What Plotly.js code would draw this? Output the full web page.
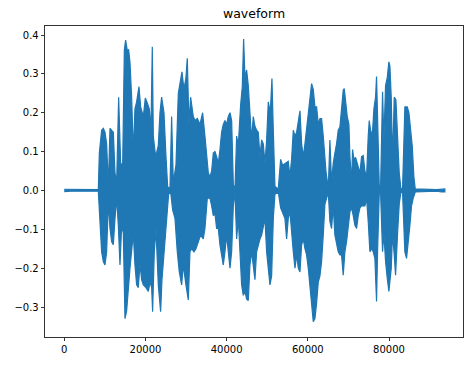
<!DOCTYPE html>
<html><head><meta charset="utf-8">
<script src="https://cdn.plot.ly/plotly-3.0.1.min.js"></script>
<style>html,body{margin:0;padding:0;background:#fff}#chart{width:474px;height:365px}</style>
</head><body><div id="chart"></div>
<script>
// Upper envelope of the waveform (sample index, amplitude)
const topSamples = [0,1000,1600,8380,8630,8960,9200,9610,10020,10430,10850,11260,11670,12080,12490,12900,13390,13880,14380,14790,15110,15520,15850,16180,16590,17000,17410,17820,18400,18810,19470,19960,20450,20940,21350,21680,21930,22500,23160,23570,23980,24560,25050,25460,26030,26440,26860,27510,28090,28660,28990,29480,29970,30300,30710,31120,31780,32190,32770,33420,34080,34650,35070,35480,
35890,36300,36710,37120,37530,37940,38350,38760,39170,39580,39990,40400,40820,41230,41640,42050,42460,42870,43440,43850,44180,44510,44920,45330,45740,46150,46560,46970,47380,47790,48200,48620,49030,49440,49850,50260,50750,51160,51490,51900,52720,53300,53790,54360,55180,55590,56000,56420,56830,57240,57650,58060,58470,58880,59290,59700,60110,60520,60930,61340,61750,62160,62570,62980,63390,63800,64460,65040,
65440,65850,66260,66670,67080,67490,67900,68310,68720,68970,69380,69710,70120,70370,70780,71020,71350,71760,72170,72580,72830,73240,73650,74060,74470,74880,75130,75460,75870,76280,76690,76930,77180,77590,77920,78410,78740,79150,79560,79970,80220,80550,80870,81290,81700,82110,82520,82930,83340,83910,84490,84900,85310,85720,86130,86460,91710,92940,93760];
const topAmplitude = [0.003,0.003,0.002,0.002,0.096,0.13,0.155,0.16,0.15,0.12,0.01,0.16,0.155,0.15,0.045,0.02,0.24,0.07,0.065,0.361,0.387,0.36,0.362,0.33,0.24,0.096,0.21,0.228,0.267,0.215,0.19,0.238,0.225,0.21,0.155,0.37,0.14,0.087,0.115,0.2,0.24,0.2,0.087,0.01,0.004,0.19,0.02,0.065,0.25,0.284,0.305,0.26,0.29,0.34,0.17,0.24,0.19,0.18,0.185,0.17,0.2,0.14,0.087,0.045,
0.035,0.05,0.096,0.1,0.087,0.07,0.105,0.15,0.17,0.18,0.17,0.19,0.2,0.18,0.015,0.004,0.14,0.115,0.22,0.267,0.39,0.29,0.31,0.27,0.2,0.13,0.19,0.165,0.155,0.15,0.087,0.13,0.12,0.07,0.13,0.228,0.2,0.288,0.155,0.01,0.004,0.08,0.065,0.07,0.075,0.035,0.08,0.155,0.14,0.15,0.18,0.205,0.12,0.087,0.12,0.16,0.19,0.24,0.275,0.26,0.215,0.215,0.17,0.185,0.185,0.14,0.05,0.005,
0.13,0.02,0.07,0.096,0.12,0.155,0.163,0.21,0.258,0.262,0.21,0.19,0.17,0.087,0.02,0.105,0.08,0.085,0.07,0.05,0.045,0.087,0.09,0.05,0.035,0.14,0.18,0.155,0.14,0.21,0.24,0.293,0.155,0.015,0.005,0.254,0.13,0.27,0.29,0.331,0.32,0.24,0.07,0.24,0.233,0.155,0.045,0.005,0.005,0.215,0.215,0.2,0.163,0.115,0.035,0.004,0.002,0.004,0.004];
// Lower envelope of the waveform (sample index, amplitude)
const bottomSamples = [0,1000,1600,8380,8790,9200,9610,10020,10430,10850,11260,11670,12080,12490,12900,13310,13720,14130,14540,14950,15360,15770,16180,17000,17410,17820,18230,18650,19060,19470,20120,20700,21110,21520,21760,22170,22590,23160,23730,24060,24560,25210,25700,26200,26690,27270,27840,28330,28910,29320,29970,30550,30960,31370,31950,32440,33010,33590,34240,34650,35230,
35890,36300,36710,37120,37530,37940,38350,38760,39170,39580,39990,40400,40820,41230,41640,42050,42460,42870,43280,43690,44100,44510,44920,45330,45740,46150,46560,46970,47380,47790,48200,48620,49030,49440,49850,50260,50670,51080,51490,51900,52720,53300,53790,54360,54770,55180,55590,56000,56420,56830,57240,57650,58060,58470,58880,59290,59700,60110,60520,60930,61340,61750,62160,62570,62980,63390,63800,64210,64620,65040,
65440,65850,66260,66670,67080,67490,67900,68310,68720,69130,69540,69960,70370,70780,71190,71600,72010,72420,72830,73240,73650,74060,74470,74880,75290,75700,76110,76520,76930,77180,77590,77920,78410,78740,79150,79560,79970,80220,80550,80870,81290,81620,82110,82520,82930,83340,83910,84320,84730,85140,85550,85960,86460,91710,92940,93760];
const bottomAmplitude = [-0.003,-0.003,-0.002,-0.002,-0.072,-0.158,-0.183,-0.192,-0.158,-0.03,-0.098,-0.132,-0.14,-0.072,-0.02,-0.09,-0.192,-0.09,-0.11,-0.33,-0.31,-0.27,-0.2,-0.11,-0.192,-0.243,-0.25,-0.19,-0.23,-0.243,-0.25,-0.26,-0.236,-0.25,-0.312,-0.158,-0.1,-0.243,-0.312,-0.23,-0.158,-0.072,-0.01,-0.004,-0.05,-0.072,-0.158,-0.21,-0.243,-0.192,-0.243,-0.282,-0.158,-0.15,-0.158,-0.15,-0.132,-0.115,-0.125,-0.098,-0.02,
-0.02,-0.04,-0.065,-0.06,-0.098,-0.098,-0.14,-0.166,-0.192,-0.158,-0.115,-0.158,-0.2,-0.158,-0.04,-0.004,-0.125,-0.072,-0.158,-0.243,-0.27,-0.26,-0.28,-0.283,-0.192,-0.158,-0.192,-0.23,-0.158,-0.14,-0.125,-0.115,-0.098,-0.072,-0.158,-0.2,-0.243,-0.22,-0.072,-0.01,-0.004,-0.045,-0.055,-0.072,-0.125,-0.072,-0.055,-0.115,-0.158,-0.2,-0.166,-0.2,-0.21,-0.14,-0.125,-0.15,-0.166,-0.2,-0.243,-0.286,-0.338,-0.33,-0.29,-0.236,-0.22,-0.183,-0.115,-0.035,-0.02,-0.005,
-0.08,-0.098,-0.04,-0.115,-0.14,-0.158,-0.166,-0.166,-0.218,-0.158,-0.132,-0.098,-0.055,-0.045,-0.065,-0.09,-0.098,-0.065,-0.045,-0.04,-0.04,-0.04,-0.02,-0.08,-0.158,-0.15,-0.158,-0.175,-0.286,-0.158,-0.01,-0.005,-0.158,-0.11,-0.183,-0.225,-0.26,-0.25,-0.2,-0.11,-0.166,-0.218,-0.11,-0.035,-0.005,-0.005,-0.158,-0.175,-0.14,-0.09,-0.04,-0.02,-0.004,-0.002,-0.004,-0.004];
const xTicks = [0, 20000, 40000, 60000, 80000];
const yTicks = [-0.3, -0.2, -0.1, 0.0, 0.1, 0.2, 0.3, 0.4];
const chartTitle = 'waveform';

const polyX = topSamples.concat(bottomSamples.slice().reverse());
const polyY = topAmplitude.concat(bottomAmplitude.slice().reverse());

const axisStyle = {
  showline: true, mirror: true, linecolor: '#000', linewidth: 0.8,
  ticks: 'outside', ticklen: 3.5, tickwidth: 0.8, tickcolor: '#000',
  showgrid: false, zeroline: false,
  tickfont: {family: 'DejaVu Sans', size: 10, color: '#000'}
};
const layout = {
  width: 474, height: 365,
  margin: {l: 45, r: 11, t: 26, b: 28, pad: 0},
  paper_bgcolor: '#fff', plot_bgcolor: '#fff',
  font: {family: 'DejaVu Sans', size: 10, color: '#000'},
  showlegend: false,
  title: {text: chartTitle, font: {family: 'DejaVu Sans', size: 12.5, color: '#000'},
          x: 0.5, xref: 'paper', xanchor: 'center', y: 1 - 14/365, yref: 'container', yanchor: 'middle'},
  xaxis: Object.assign({range: [-4755, 98230], tickvals: xTicks, tickformat: 'd'}, axisStyle),
  yaxis: Object.assign({range: [-0.3772, 0.4232], tickvals: yTicks, tickformat: '.1f'}, axisStyle)
};
Plotly.newPlot('chart', [{
  x: polyX, y: polyY, type: 'scatter', mode: 'lines', fill: 'toself',
  fillcolor: '#1f77b4', line: {color: '#1f77b4', width: 1.2}, hoverinfo: 'skip'
}], layout, {staticPlot: true});
</script>
</body></html>
